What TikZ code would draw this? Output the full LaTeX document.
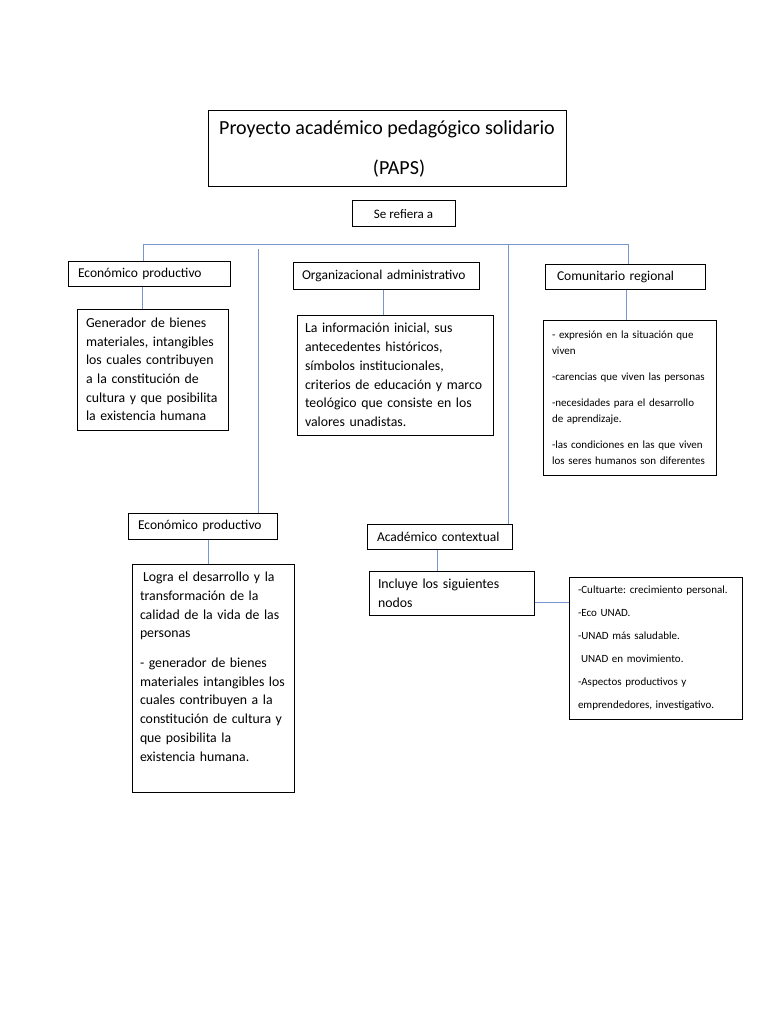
\documentclass[tikz,border=0pt]{standalone}
\usepackage{fontspec}
\setmainfont{Carlito}
\usepackage{tikz}
\frenchspacing
\hyphenpenalty=10000
\exhyphenpenalty=10000
\definecolor{linkblue}{RGB}{120,150,205}
\tikzstyle{titlebox} = [rectangle, draw, line width=1pt, align=center, inner sep=0pt,
minimum width=358pt, minimum height=76pt, font=\fontsize{20}{40}\selectfont]
\tikzstyle{tag} = [rectangle, draw, line width=1pt, align=left, inner xsep=10pt, inner ysep=0pt,
minimum height=25pt, font=\fontsize{13.5}{16}\selectfont]
\tikzstyle{block} = [rectangle, draw, line width=1pt, align=left, inner xsep=9pt, inner ysep=0pt,
font=\fontsize{13.8}{18.7}\selectfont]
\tikzstyle{smallblock} = [rectangle, draw, line width=1pt, align=left, inner xsep=9pt, inner ysep=0pt,
font=\fontsize{11}{16}\selectfont]
\tikzstyle{line} = [draw, linkblue, line width=0.8pt]

\begin{document}
\begin{tikzpicture}[x=1pt, y=-1pt]
		\useasboundingbox (0,0) rectangle (768,1024);
		\node [titlebox] (paps) at (387,149) {Proyecto académico pedagógico solidario\\\hspace*{24pt}(PAPS)};
		\node [tag, align=center, minimum width=103pt, minimum height=26pt, font=\fontsize{13}{16}\selectfont] (refiere) at (403.5,214) {Se refiera a};
		
		\node [tag, text width=142pt] (eco1) at (149,273.5) {Económico productivo};
		\node [tag, text width=168pt, inner xsep=9pt, minimum height=27pt] (org) at (386,275.5) {Organizacional administrativo};
		\node [tag, text width=136pt, inner xsep=12pt] (com) at (625,276.5) {Comunitario regional};
		
		\node [block, text width=133pt, minimum height=121pt] (gen) at (152.5,369.5) {Generador de bienes\\materiales, intangibles\\los cuales contribuyen\\a la constitución de\\cultura y que posibilita\\la existencia humana};
		\node [block, text width=180pt, inner xsep=8pt, minimum height=120pt] (info) at (395,375) {La información inicial, sus\\antecedentes históricos,\\símbolos institucionales,\\criterios de educación y marco\\teológico que consiste en los\\valores unadistas.};
		\node [smallblock, text width=155pt, minimum height=155pt] (vive) at (629.5,397.5) {- expresión en la situación que\\viven\\[10pt]-carencias que viven las personas\\[10pt]-necesidades para el desarrollo\\de aprendizaje.\\[10pt]-las condiciones en las que viven\\los seres humanos son diferentes};
		
		\node [tag, text width=129pt, minimum height=26pt] (eco2) at (202.5,526) {Económico productivo};
		\node [block, text width=146pt, inner xsep=8pt, minimum height=228pt] (logra) at (213,678) {\hspace*{3pt}Logra el desarrollo y la\\transformación de la\\calidad de la vida de las\\personas\\[11pt]- generador de bienes\\materiales intangibles los\\cuales contribuyen a la\\constitución de cultura y\\que posibilita la\\existencia humana.\\[4pt]\mbox{}};
		\node [tag, text width=125pt] (acad) at (439.5,536.5) {Académico contextual};
		\node [block, text width=147pt, minimum height=44pt] (incl) at (451.5,593) {Incluye los siguientes\\nodos};
		\node [smallblock, text width=155pt, minimum height=142pt] (nodos) at (655.5,648) {-Cultuarte: crecimiento personal.\\[7pt]-Eco UNAD.\\[7pt]-UNAD más saludable.\\[7pt]\hspace*{3pt}UNAD en movimiento.\\[7pt]-Aspectos productivos y\\[7pt]emprendedores, investigativo.};
		
		\coordinate (h1) at (143,244);
		\coordinate (h2) at (628,244);
		\coordinate (h3) at (258,249);
		\coordinate (h4) at (508,244);
		
		\path [line] (h1) -- (h2);
		\path [line] (h1) -- (h1 |- eco1.north);
		\path [line] (h2) -- (h2 |- com.north);
		\path [line] (h3) -- (h3 |- eco2.north);
		\path [line] (h4) -- (h4 |- acad.north);
		
		\path [line] ([xshift=-7pt]eco1.south) -- ([xshift=-7pt]eco1.south |- gen.north);
		\path [line] ([xshift=-3pt]org.south) -- ([xshift=-3pt]org.south |- info.north);
		\path [line] ([xshift=1pt]com.south) -- ([xshift=1pt]com.south |- vive.north);
		\path [line] ([xshift=5.5pt]eco2.south) -- ([xshift=5.5pt]eco2.south |- logra.north);
		\path [line] ([xshift=-2.5pt]acad.south) -- ([xshift=-2.5pt]acad.south |- incl.north);
		\path [line] ([yshift=-9pt]incl.east) -- ([yshift=46pt]nodos.west);
		\end{tikzpicture}
\end{document}
